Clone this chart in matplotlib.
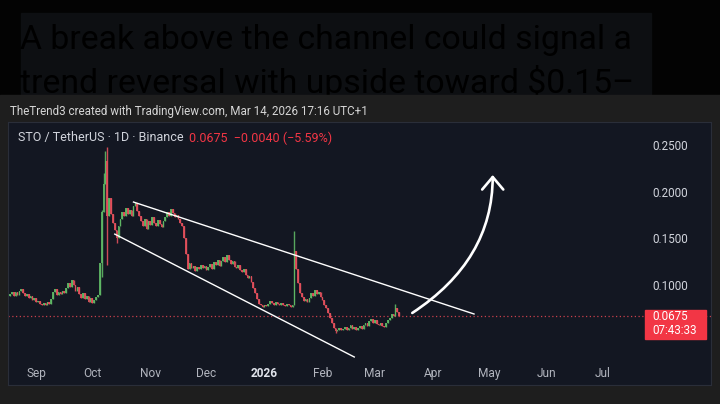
import matplotlib
matplotlib.use('Agg')
import matplotlib.pyplot as plt
import matplotlib.dates as mdates
from matplotlib.patches import Rectangle, FancyArrowPatch
from matplotlib.path import Path
import pandas as pd

# daily closes, STO/USDT, last bar = Mar 14 2026
closes = [
    0.091, 0.094, 0.089, 0.093, 0.090, 0.095, 0.097, 0.092, 0.089, 0.091,
    0.087, 0.089, 0.085, 0.087, 0.083, 0.084, 0.081, 0.079, 0.082, 0.080,
    0.083, 0.081, 0.086, 0.093, 0.097, 0.090, 0.094, 0.091, 0.095, 0.092,
    0.098, 0.103, 0.099, 0.106, 0.101, 0.095, 0.099, 0.091, 0.087, 0.092,
    0.086, 0.089, 0.083, 0.087, 0.082, 0.085, 0.088, 0.090, 0.125, 0.180,
    0.210, 0.235, 0.175, 0.195, 0.178, 0.168, 0.160, 0.152, 0.165, 0.172,
    0.180, 0.175, 0.184, 0.178, 0.182, 0.176, 0.186, 0.190, 0.181, 0.176,
    0.170, 0.165, 0.172, 0.162, 0.170, 0.166, 0.174, 0.168, 0.165, 0.171,
    0.167, 0.164, 0.170, 0.174, 0.180, 0.176, 0.183, 0.179, 0.174, 0.177,
    0.172, 0.168, 0.165, 0.152, 0.135, 0.118, 0.125, 0.119, 0.122, 0.116,
    0.121, 0.118, 0.123, 0.119, 0.122, 0.117, 0.120, 0.124, 0.118, 0.126,
    0.123, 0.128, 0.122, 0.127, 0.131, 0.126, 0.133, 0.128, 0.124, 0.127,
    0.121, 0.119, 0.123, 0.117, 0.115, 0.118, 0.112, 0.109, 0.111, 0.104,
    0.098, 0.092, 0.086, 0.081, 0.079, 0.077, 0.080, 0.078, 0.081, 0.084,
    0.082, 0.080, 0.083, 0.081, 0.079, 0.082, 0.080, 0.078, 0.081, 0.079,
    0.077, 0.080, 0.138, 0.118, 0.103, 0.092, 0.088, 0.084, 0.086, 0.083,
    0.087, 0.092, 0.089, 0.096, 0.091, 0.094, 0.088, 0.085, 0.080, 0.076,
    0.071, 0.066, 0.060, 0.055, 0.051, 0.053, 0.055, 0.052, 0.054, 0.056,
    0.053, 0.055, 0.058, 0.054, 0.056, 0.053, 0.055, 0.057, 0.054, 0.058,
    0.060, 0.057, 0.062, 0.064, 0.060, 0.063, 0.059, 0.058, 0.060, 0.057,
    0.056, 0.060, 0.063, 0.066, 0.070, 0.068, 0.076, 0.0715, 0.0675,
]
first_open = 0.089
wick_highs = {49: 0.182, 50: 0.222, 51: 0.246, 52: 0.250, 152: 0.159, 206: 0.081}
wick_lows = {49: 0.110, 52: 0.123, 57: 0.146, 174: 0.049}
last_date = '2026-03-14'
last_price = 0.0675

month_labels = ['Sep', 'Oct', 'Nov', 'Dec', '2026', 'Feb', 'Mar', 'Apr', 'May', 'Jun', 'Jul']
month_dates = ['2025-09-01', '2025-10-01', '2025-11-01', '2025-12-01', '2026-01-01', '2026-02-01',
               '2026-03-01', '2026-04-01', '2026-05-01', '2026-06-01', '2026-07-01']
price_ticks = [0.25, 0.20, 0.15, 0.10]

upper_line = [('2025-10-23', 0.1906), ('2026-04-23', 0.0698)]
lower_line = [('2025-10-13', 0.156), ('2026-02-18', 0.0234)]
arrow_pts = [('2026-03-21', 0.0709), ('2026-05-03', 0.128), ('2026-05-03', 0.2198)]

dates = pd.date_range(end=last_date, periods=len(closes), freq='D')
x = mdates.date2num(dates)
opens = [first_open] + closes[:-1]
highs = [max(o, c) for o, c in zip(opens, closes)]
lows = [min(o, c) for o, c in zip(opens, closes)]
for i, v in wick_highs.items():
    highs[i] = v
for i, v in wick_lows.items():
    lows[i] = v

GREEN = '#5fb865'
RED = '#e4505c'
colors = [GREEN if c >= o else RED for o, c in zip(opens, closes)]

W, H = 720, 404
fig = plt.figure(figsize=(7.2, 4.04), dpi=100)
fig.patch.set_facecolor('#030303')

def fr(px, py, pw, ph):
    return (px / W, 1 - (py + ph) / H, pw / W, ph / H)

# headline behind the screenshot
l, b, w, h = fr(21, 13, 630, 82)
fig.add_artist(Rectangle((l, b), w, h, transform=fig.transFigure, color='#0d0f12', zorder=0))
fig.text(20 / W, 1 - 40 / H, 'A break above the channel could signal a', fontsize=24.3,
         family='Roboto', color='#000000', va='center', zorder=1)
fig.text(20 / W, 1 - 83 / H, 'trend reversal with upside toward $0.15–', fontsize=24.3,
         family='Roboto', color='#000000', va='center', zorder=1)

# grey screenshot panel
l, b, w, h = fr(0, 95, 720, 309)
fig.add_artist(Rectangle((l, b), w, h, transform=fig.transFigure, color='#1e1e1e', zorder=2))
fig.text(10 / W, 1 - 111 / H, 'TheTrend3 created with TradingView.com, Mar 14, 2026 17:16 UTC+1',
         fontsize=8.35, family='Roboto', color='#d6d6d6', va='center', zorder=3)

ax = fig.add_axes(fr(8, 122, 703, 263))
ax.set_zorder(5)
ax.set_facecolor('#131722')
for s in ax.spines.values():
    s.set_color('#2a2e39')
    s.set_linewidth(0.8)

left = mdates.date2num(pd.Timestamp('2025-08-18')) - 1.07
ax.set_xlim(left, left + 703 / 1.871)
ax.set_ylim(0.10 - 99 * 0.0010791, 0.10 + 164 * 0.0010791)
ax.set_xticks([])
ax.set_yticks([])

# candles
ax.vlines(x, lows, highs, colors=colors, lw=1.0, alpha=0.9, zorder=3)
ax.bar(x, [max(abs(c - o), 0.0012) for o, c in zip(opens, closes)],
       bottom=[min(o, c) for o, c in zip(opens, closes)],
       width=0.9, color=colors, alpha=0.9, zorder=3)

# last price line + label
ax.plot([ax.get_xlim()[0], mdates.date2num(pd.Timestamp('2026-09-13'))], [last_price, last_price],
        color='#c8404c', lw=0.9, ls=(0, (1, 2)), zorder=2)
yt = ax.get_yaxis_transform()
ax.add_patch(Rectangle((0.906, last_price - 0.0313 + 0.0062), 0.0868, 0.0313, transform=yt,
                       color='#f23645', zorder=6, clip_on=False))
ax.text(0.917, last_price, f'{last_price:.4f}', transform=yt, color='white', fontsize=8.4,
        family='Roboto', va='center', zorder=7)
ax.text(0.917, last_price - 0.0152, '07:43:33', transform=yt, color='white', fontsize=8.4,
        family='Roboto', va='center', zorder=7)

# price scale labels
for p in price_ticks:
    ax.text(0.917, p, f'{p:.4f}', transform=yt, color='#d1d4dc', fontsize=8.4,
            family='Roboto', va='center')

# time scale labels
xt = ax.get_xaxis_transform()
for lab, d in zip(month_labels, month_dates):
    ax.text(mdates.date2num(pd.Timestamp(d)), 0.045, lab, transform=xt, ha='center', va='center',
            color='#e0e3eb' if lab == '2026' else '#b2b5be', fontsize=8.6, family='Roboto',
            fontweight='bold' if lab == '2026' else 'normal')

# channel lines
for line in (upper_line, lower_line):
    ax.plot([mdates.date2num(pd.Timestamp(d)) for d, _ in line], [p for _, p in line],
            color='white', lw=1.0, zorder=4)

# projected move arrow
verts = [(mdates.date2num(pd.Timestamp(d)), p) for d, p in arrow_pts]
arrow = FancyArrowPatch(path=Path(verts, [Path.MOVETO, Path.CURVE3, Path.CURVE3]),
                        arrowstyle='->,head_length=0.45,head_width=0.38', mutation_scale=20,
                        color='white', lw=1.9, zorder=5)
ax.add_patch(arrow)

# legend line
ax.text(10 / 703, 1 - 16 / 263, 'STO / TetherUS · 1D · Binance', transform=ax.transAxes,
        color='#d1d4dc', fontsize=9.0, family='Roboto', va='center')
ax.text(181 / 703, 1 - 16 / 263, '0.0675  −0.0040 (−5.59%)', transform=ax.transAxes,
        color='#f23645', fontsize=9.0, family='Roboto', va='center')

fig.savefig('out.png', dpi=100, facecolor=fig.get_facecolor())
